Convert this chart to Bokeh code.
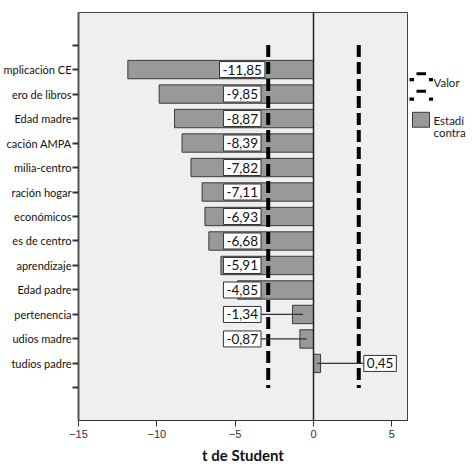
from bokeh.plotting import figure
from bokeh.layouts import row
from bokeh.models import Range1d, FixedTicker, Span
from bokeh.core.properties import value
from bokeh.embed import file_html
from bokeh.resources import INLINE

# data (labels are cut at the left edge of the original)
variables = ["mplicación CE", "ero de libros", "Edad madre", "cación AMPA", "milia-centro",
             "ración hogar", "económicos", "es de centro", "aprendizaje", "Edad padre",
             "pertenencia", "udios madre", "tudios padre"]
t_vals = [-11.85, -9.85, -8.87, -8.39, -7.82, -7.11, -6.93, -6.68, -5.91, -4.85, -1.34, -0.87, 0.45]
crit = [-2.89, 2.89]
x_ticks = [-15, -10, -5, 0, 5]
legend_texts = ["Valor", "Estadí", "contra"]

t_labels = [("%.2f" % v).replace(".", ",") for v in t_vals]
pos = list(range(1, len(variables) + 1))
n_ticks = len(variables) + 2

# geometry in canvas pixels
H = 466
FL, FR, FT, FB = 74, 407, 12, 422
LEG_W = 466 - FR - 1

p = figure(width=FR + 1, height=H, output_backend="svg", toolbar_location=None,
           x_range=Range1d(-15, 6), y_range=Range1d(15.33, -1.33),
           min_border_left=FL, min_border_right=1, min_border_top=FT, min_border_bottom=H - FB)
p.background_fill_color = "#efefef"
p.border_fill_color = "white"
p.outline_line_color = "#444444"
p.xgrid.grid_line_color = None
p.ygrid.grid_line_color = None

# axes
p.xaxis.ticker = FixedTicker(ticks=x_ticks)
p.xaxis.minor_tick_line_color = None
p.xaxis.major_tick_out = 6
p.xaxis.major_tick_in = 0
p.xaxis.axis_line_color = "#333333"
p.xaxis.major_tick_line_color = "#333333"
p.xaxis.major_label_text_font = "Liberation Sans"
p.xaxis.major_label_text_font_size = "11px"
p.xaxis.major_label_text_color = "#333333"
p.xaxis.major_label_standoff = 3
p.xaxis.axis_label = "t de Student"
p.xaxis.axis_label_text_font = "Lato"
p.xaxis.axis_label_text_font_style = "bold"
p.xaxis.axis_label_text_font_size = "15px"
p.xaxis.axis_label_text_color = "#111111"
p.xaxis.axis_label_standoff = 5

p.yaxis.ticker = FixedTicker(ticks=list(range(n_ticks)))
overrides = {0: "", n_ticks - 1: ""}
for y, name in zip(pos, variables):
    overrides[y] = name
p.yaxis.major_label_overrides = overrides
p.yaxis.major_label_text_font = "Lato"
p.yaxis.major_label_text_font_size = "11px"
p.yaxis.major_label_text_color = "#111111"
p.yaxis.major_label_standoff = 1
p.yaxis.minor_tick_line_color = None
p.yaxis.major_tick_out = 6
p.yaxis.major_tick_in = 0
p.yaxis.axis_line_width = 2
p.yaxis.axis_line_color = "#555555"
p.yaxis.major_tick_line_color = "#333333"
p.yaxis.major_tick_line_width = 2

# bars
p.hbar(y=pos, left=0, right=t_vals, height=0.75, fill_color="#999999",
       line_color="#3a3a3a", line_width=1)

# zero line and critical values
p.add_layout(Span(location=0, dimension="height", line_color="#222222", line_width=1.5))
for c in crit:
    p.segment(x0=[c], y0=[0], x1=[c], y1=[n_ticks - 1], line_color="black",
              line_width=4, line_dash="12 5")

# value boxes, with leader lines where the box does not touch its bar
lab_x = [-4.55 if v < 0 else 4.25 for v in t_vals]
lx0, ly, lx1 = [], [], []
for v, lx, y in zip(t_vals, lab_x, pos):
    if v > -3.3:
        lx0.append(lx)
        lx1.append(v / 2)
        ly.append(y)
p.segment(x0=lx0, y0=ly, x1=lx1, y1=ly, line_color="#333333", line_width=1.2)
p.text(x=lab_x, y=pos, text=t_labels, text_align="center", text_baseline="middle",
       text_font=value("Lato"), text_font_size="13.5px", text_color="#111111",
       background_fill_color="white", border_line_color="#333333", padding=3)

# legend strip on the right (pixel coordinates), cut by the edge as in the original
lg = figure(width=LEG_W, height=H, output_backend="svg", toolbar_location=None,
            x_range=Range1d(FR + 1, 466), y_range=Range1d(H, 0),
            x_axis_location=None, y_axis_location=None, min_border=0)
lg.outline_line_color = None
lg.grid.visible = False
lg.background_fill_color = "white"
lg.border_fill_color = "white"
for big_y, small_y in [(70, 76.7), (90, 99)]:
    lg.quad(left=[416, 409, 428.5], right=[425.5, 413.5, 432.5],
            top=[big_y - 1.8, small_y - 1.8, small_y - 1.8],
            bottom=[big_y + 1.8, small_y + 1.8, small_y + 1.8],
            fill_color="black", line_color=None)
lg.quad(left=[412], right=[429], top=[114], bottom=[131], fill_color="#999999",
        line_color="#3a3a3a", line_width=1)
lg.text(x=[433, 433, 433], y=[80.5, 123, 136.5], text=legend_texts, text_align="left",
        text_baseline="alphabetic", text_font=value("Lato"), text_font_size="11.5px",
        text_color="#1a1a1a")

open("out.html", "w").write(file_html(row(p, lg), INLINE))
